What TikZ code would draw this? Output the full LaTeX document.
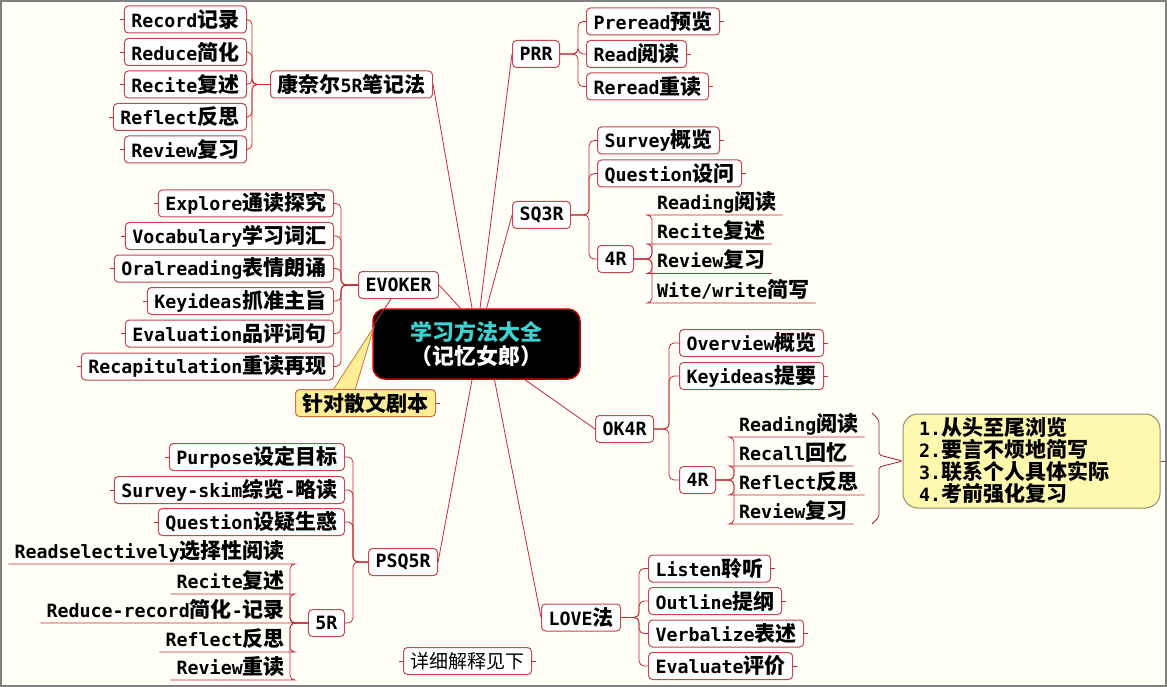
\documentclass[tikz,border=0pt]{standalone}
\usepackage{fontspec}
\setmainfont{DejaVu Sans Mono}
\newfontfamily\cjk{Noto Sans CJK SC}
\usepackage{xcolor}
\usepackage{tikz}
\usetikzlibrary{positioning, calc}

\definecolor{paper}{RGB}{255,254,247}
\definecolor{framegray}{RGB}{128,128,128}
\definecolor{linkred}{RGB}{200,40,50}
\definecolor{boxred}{RGB}{196,70,80}
\definecolor{rootred}{RGB}{200,0,0}
\definecolor{rootcyan}{RGB}{60,210,210}
\definecolor{noteyellow}{RGB}{255,238,150}
\definecolor{noteline}{RGB}{215,110,60}
\definecolor{tipyellow}{RGB}{255,249,175}
\definecolor{tipline}{RGB}{150,140,110}

\newcommand{\zh}[1]{{\cjk\fontsize{21}{22}\selectfont #1}}

\begin{document}
\begin{tikzpicture}[
    x=1pt, y=-1pt,
    font=\fontsize{18.3}{22}\selectfont\bfseries,
    box/.style={draw=boxred, line width=1pt, fill=white, rounded corners=4pt, inner xsep=7pt, inner ysep=0pt, minimum height=27pt},
    leaf/.style={inner xsep=6pt, inner ysep=1.5pt, text height=14pt, text depth=4pt},
    root/.style={draw=rootred, line width=1.5pt, fill=black, rounded corners=12pt, minimum width=207pt, minimum height=70pt, align=center, text=white, font=\cjk\fontsize{22}{24}\selectfont\bfseries},
    notebox/.style={box, draw=noteline, fill=noteyellow},
    tipbox/.style={draw=tipline, line width=1pt, fill=tipyellow, rounded corners=15pt, minimum width=257pt, minimum height=94pt, text width=225pt, align=left},
    lnk/.style={draw=linkred, line width=0.8pt, rounded corners=5pt},
    brace/.style={draw=linkred!80!black, line width=0.8pt, rounded corners=2pt}
]
\useasboundingbox (0,0) rectangle (1167,687);
\draw [draw=framegray, line width=2pt, fill=paper] (1,1) rectangle (1166,686);

% centre
\node (root) [root] at (476.5,344) {\textcolor{rootcyan}{学习方法大全}\\（记忆女郎）};

% callout
\draw [draw=noteline, line width=0.8pt, fill=noteyellow] (333,390) -- (374,327) -- (355,390) -- cycle;
\node (note) [notebox, anchor=west] at (295,403) {\zh{针对散文剧本}};
\draw [lnk] (note.east) -- ++(4,0);

% Cornell 5R
\node (cornell) [box, anchor=west] at (270,84.5) {\zh{康奈尔}5R\zh{笔记法}};
\node (rec1) [box, anchor=east] at (247,19.5) {Record\zh{记录}};
\node (rec2) [box, anchor=east] at (247,52) {Reduce\zh{简化}};
\node (rec3) [box, anchor=east] at (247,84.5) {Recite\zh{复述}};
\node (rec4) [box, anchor=east] at (247,117) {Reflect\zh{反思}};
\node (rec5) [box, anchor=east] at (247,149.5) {Review\zh{复习}};

% PRR
\node (prr) [box, anchor=west] at (512,54) {PRR};
\node (pre1) [box, anchor=west] at (586,21.5) {Preread\zh{预览}};
\node (pre2) [box, anchor=west] at (586,54) {Read\zh{阅读}};
\node (pre3) [box, anchor=west] at (586,86.5) {Reread\zh{重读}};

% SQ3R
\node (sq3r) [box, anchor=west] at (512,215) {SQ3R};
\node (sq1) [box, anchor=west] at (597,140.5) {Survey\zh{概览}};
\node (sq2) [box, anchor=west] at (597,173.5) {Question\zh{设问}};
\node (sq4r) [box, anchor=west] at (597,259) {4R};
\node (sqr1) [leaf, anchor=south west] at (651,215) {Reading\zh{阅读}};
\node (sqr2) [leaf, anchor=south west] at (651,244) {Recite\zh{复述}};
\node (sqr3) [leaf, anchor=south west] at (651,273.5) {Review\zh{复习}};
\node (sqr4) [leaf, anchor=south west] at (651,303) {Wite/write\zh{简写}};

% EVOKER
\node (evoker) [box, anchor=west] at (358,285) {EVOKER};
\node (ev1) [box, anchor=east] at (334,203.5) {Explore\zh{通读探究}};
\node (ev2) [box, anchor=east] at (334,236) {Vocabulary\zh{学习词汇}};
\node (ev3) [box, anchor=east] at (334,268.5) {Oralreading\zh{表情朗诵}};
\node (ev4) [box, anchor=east] at (334,301) {Keyideas\zh{抓准主旨}};
\node (ev5) [box, anchor=east] at (334,333.5) {Evaluation\zh{品评词句}};
\node (ev6) [box, anchor=east] at (334,366.5) {Recapitulation\zh{重读再现}};

% PSQ5R
\node (psq) [box, anchor=west] at (368,562) {PSQ5R};
\node (ps1) [box, anchor=east] at (345,457) {Purpose\zh{设定目标}};
\node (ps2) [box, anchor=east] at (345,490) {Survey-skim\zh{综览}-\zh{略读}};
\node (ps3) [box, anchor=east] at (345,522) {Question\zh{设疑生惑}};
\node (ps5r) [box, anchor=east] at (345,623) {5R};
\node (psr1) [leaf, anchor=south east] at (291,564) {Readselectively\zh{选择性阅读}};
\node (psr2) [leaf, anchor=south east] at (291,594) {Recite\zh{复述}};
\node (psr3) [leaf, anchor=south east] at (291,623) {Reduce-record\zh{简化}-\zh{记录}};
\node (psr4) [leaf, anchor=south east] at (291,652) {Reflect\zh{反思}};
\node (psr5) [leaf, anchor=south east] at (291,680) {Review\zh{重读}};

% OK4R
\node (ok4r) [box, anchor=west] at (595,429) {OK4R};
\node (ok1) [box, anchor=west] at (679,343) {Overview\zh{概览}};
\node (ok2) [box, anchor=west] at (679,376) {Keyideas\zh{提要}};
\node (ok4) [box, anchor=west] at (679,480) {4R};
\node (okr1) [leaf, anchor=south west] at (733,437) {Reading\zh{阅读}};
\node (okr2) [leaf, anchor=south west] at (733,466) {Recall\zh{回忆}};
\node (okr3) [leaf, anchor=south west] at (733,495) {Reflect\zh{反思}};
\node (okr4) [leaf, anchor=south west] at (733,524) {Review\zh{复习}};
\node (tips) [tipbox] at (1031.5,461) {1.\zh{从头至尾浏览}\\2.\zh{要言不烦地简写}\\3.\zh{联系个人具体实际}\\4.\zh{考前强化复习}};
\draw [brace] (872,413) -- (879,420) -- (879,455) -- (tips.west) -- (879,467) -- (879,517) -- (872,524);
\draw [lnk] (tips.east) -- ++(4,0);

% LOVE
\node (love) [box, anchor=west] at (541,617.5) {LOVE\zh{法}};
\node (lv1) [box, anchor=west] at (648,568.5) {Listen\zh{聆听}};
\node (lv2) [box, anchor=west] at (648,601) {Outline\zh{提纲}};
\node (lv3) [box, anchor=west] at (648,633.5) {Verbalize\zh{表述}};
\node (lv4) [box, anchor=west] at (648,666) {Evaluate\zh{评价}};

\node (detail) [box, font=\cjk\fontsize{19}{22}\selectfont] at (467.5,661) {详细解释见下};
\draw [lnk] (detail.west) -- ++(-4,0);
\draw [lnk] (detail.east) -- ++(4,0);

% main branches
\draw [lnk] (cornell.east) -- ($(root.north)+(-4.5,0)$);
\draw [lnk] (evoker.east) -- ($(root.north)+(-16,0)$);
\draw [lnk] (prr.west) -- ($(root.north)+(3.5,0)$);
\draw [lnk] (sq3r.west) -- ($(root.north)+(10,0)$);
\draw [lnk] (psq.east) -- ($(root.south)+(-4.5,0)$);
\draw [lnk] (love.west) -- ($(root.south)+(18,0)$);
\draw [lnk] (ok4r.west) -- ($(root.south)+(48.5,0)$);
\draw [lnk] ($(evoker.south)+(-7.5,0)$) -- ($(root.west)+(0,-17)$);

% sub branches
\foreach \c in {rec1,rec2,rec3,rec4,rec5} {
  \draw [lnk] (cornell.west) -- ++(-18,0) |- (\c.east);
  \draw [lnk] (\c.west) -- ++(-4,0);
}
\foreach \c in {ev1,ev2,ev3,ev4,ev5,ev6} {
  \draw [lnk] (evoker.west) -- ++(-17,0) |- (\c.east);
  \draw [lnk] (\c.west) -- ++(-4,0);
}
\foreach \c in {ps1,ps2,ps3} {
  \draw [lnk] (psq.west) -- ++(-15,0) |- (\c.east);
  \draw [lnk] (\c.west) -- ++(-4,0);
}
\draw [lnk] (psq.west) -- ++(-15,0) |- (ps5r.east);
\foreach \c in {psr1,psr2,psr3,psr4,psr5}
  \draw [lnk] (ps5r.west) -- ++(-18,0) |- (\c.south east) -- (\c.south west);
\foreach \c in {pre1,pre2,pre3} {
  \draw [lnk] (prr.east) -- ++(18,0) |- (\c.west);
  \draw [lnk] (\c.east) -- ++(4,0);
}
\foreach \c in {sq1,sq2} {
  \draw [lnk] (sq3r.east) -- ++(18,0) |- (\c.west);
  \draw [lnk] (\c.east) -- ++(4,0);
}
\draw [lnk] (sq3r.east) -- ++(18,0) |- (sq4r.west);
\foreach \c in {sqr1,sqr2,sqr3,sqr4}
  \draw [lnk] (sq4r.east) -- ++(18,0) |- (\c.south west) -- (\c.south east);
\foreach \c in {ok1,ok2} {
  \draw [lnk] (ok4r.east) -- ++(15,0) |- (\c.west);
  \draw [lnk] (\c.east) -- ++(4,0);
}
\draw [lnk] (ok4r.east) -- ++(15,0) |- (ok4.west);
\foreach \c in {okr1,okr2,okr3,okr4}
  \draw [lnk] (ok4.east) -- ++(18,0) |- (\c.south west) -- (\c.south east);
\foreach \c in {lv1,lv2,lv3,lv4} {
  \draw [lnk] (love.east) -- ++(18,0) |- (\c.west);
  \draw [lnk] (\c.east) -- ++(4,0);
}
\end{tikzpicture}
\end{document}
